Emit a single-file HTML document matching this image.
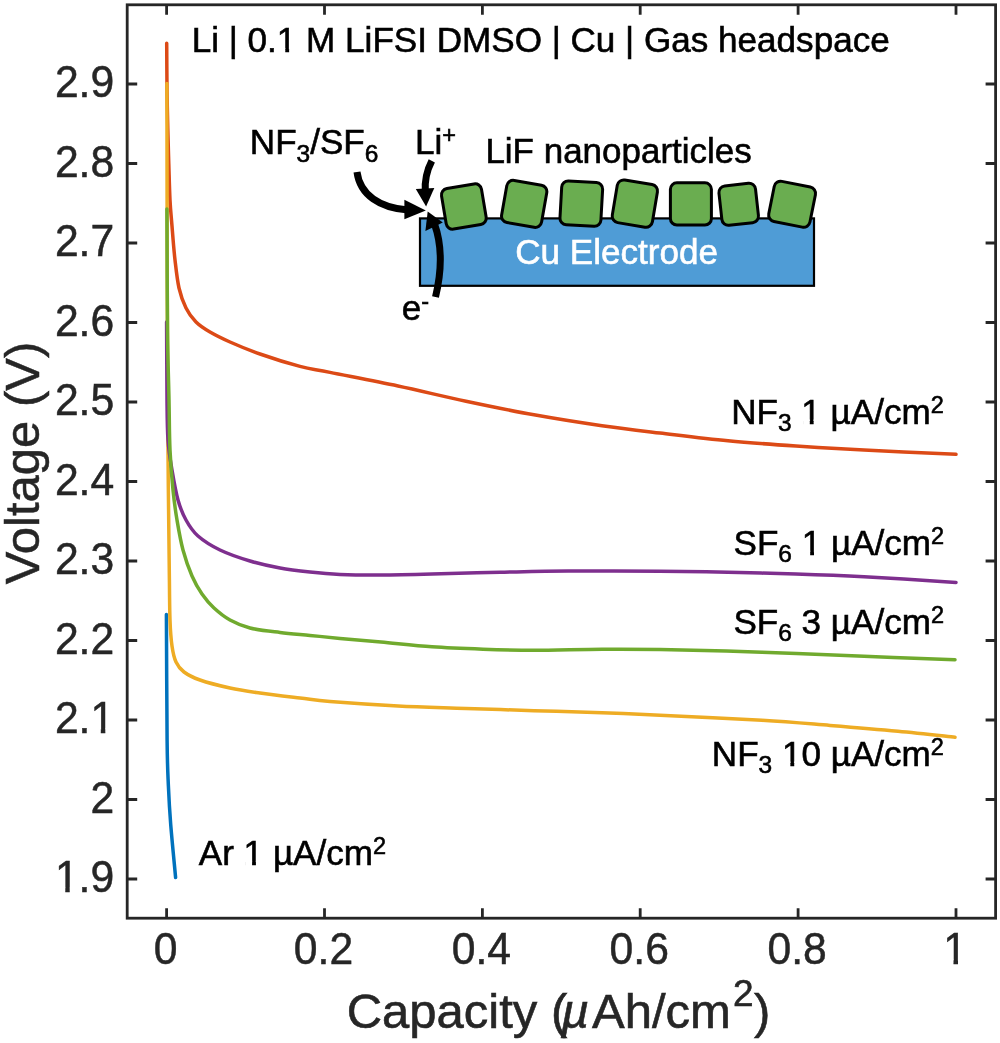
<!DOCTYPE html>
<html><head><meta charset="utf-8"><title>Voltage vs Capacity</title>
<style>html,body{margin:0;padding:0;background:#fff}svg{display:block}</style></head>
<body>
<svg width="1000" height="1043" viewBox="0 0 1000 1043" font-family="'Liberation Sans', sans-serif">
<defs><clipPath id="k1"><path clip-rule="evenodd" d="M0 0H1000V1043H0ZM945.3 959.4H953.5V965.5H945.3ZM958.0 959.4H966.2V965.5H958.0Z"/></clipPath><clipPath id="k2"><path clip-rule="evenodd" d="M0 0H1000V1043H0ZM57.0 887.6H65.3V893.7H57.0ZM69.7 887.6H77.9V893.7H69.7Z"/></clipPath><clipPath id="k3"><path clip-rule="evenodd" d="M0 0H1000V1043H0ZM92.6 728.6H100.8V734.7H92.6ZM105.3 728.6H113.5V734.7H105.3Z"/></clipPath><clipPath id="k4"><path clip-rule="evenodd" d="M0 0H1000V1043H0ZM278.6 47.9H285.3V53.3H278.6ZM289.1 47.9H295.8V53.3H289.1Z"/></clipPath><clipPath id="k5"><path clip-rule="evenodd" d="M0 0H1000V1043H0ZM803.1 419.6H809.8V425.0H803.1ZM813.6 419.6H820.3V425.0H813.6Z"/></clipPath><clipPath id="k6"><path clip-rule="evenodd" d="M0 0H1000V1043H0ZM803.5 550.6H810.2V556.0H803.5ZM814.0 550.6H820.7V556.0H814.0Z"/></clipPath><clipPath id="k7"><path clip-rule="evenodd" d="M0 0H1000V1043H0ZM783.7 761.6H790.4V767.0H783.7ZM794.2 761.6H800.9V767.0H794.2Z"/></clipPath><clipPath id="k8"><path clip-rule="evenodd" d="M0 0H1000V1043H0ZM245.4 861.1H252.1V866.5H245.4ZM255.9 861.1H262.6V866.5H255.9Z"/></clipPath></defs>
<rect width="1000" height="1043" fill="#fff"/>
<path d="M166.4 614.6C166.5 635.5 166.8 711.4 167.1 740.0C167.4 768.6 167.8 771.9 168.4 786.0C169.0 800.1 169.5 809.1 170.7 824.4C171.9 839.6 174.8 868.6 175.6 877.5" fill="none" stroke="#0072BD" stroke-width="3.5" stroke-linejoin="round" stroke-linecap="round"/>
<path d="M166.7 43.2C166.8 52.7 166.8 79.9 167.2 100.0C167.5 120.1 168.3 147.3 168.8 164.0C169.3 180.7 169.5 189.7 170.0 200.0C170.5 210.3 171.2 216.0 172.0 226.0C172.8 236.0 173.8 249.7 175.0 260.0C176.2 270.3 177.2 280.0 179.0 288.0C180.8 296.0 183.2 302.3 186.0 308.0C188.8 313.7 192.0 318.0 196.0 322.0C200.0 326.0 204.3 328.7 210.0 332.0C215.7 335.3 221.7 338.3 230.0 342.0C238.3 345.7 248.3 349.9 260.0 354.0C271.7 358.1 288.3 363.3 300.0 366.4C311.7 369.5 313.7 369.1 330.0 372.4C346.3 375.7 375.3 381.2 398.0 386.0C420.7 390.8 443.3 396.4 466.0 401.2C488.7 406.0 511.3 410.7 534.0 414.8C556.7 418.9 581.0 422.7 602.0 425.7C623.0 428.7 639.0 430.5 660.0 433.0C681.0 435.5 705.3 438.6 728.0 440.8C750.7 443.0 773.3 444.5 796.0 446.0C818.7 447.5 837.3 448.6 864.0 450.0C890.7 451.4 940.7 453.6 956.0 454.3" fill="none" stroke="#DC4A16" stroke-width="3.5" stroke-linejoin="round" stroke-linecap="round"/>
<path d="M166.9 83.5C167.0 119.6 167.1 238.9 167.3 300.0C167.5 361.1 167.7 403.3 168.0 450.0C168.3 496.7 169.1 551.7 169.4 580.0C169.7 608.3 169.6 609.0 170.0 620.0C170.4 631.0 171.0 639.0 172.0 646.0C173.0 653.0 174.0 657.7 176.0 662.0C178.0 666.3 180.0 669.0 184.0 672.0C188.0 675.0 192.3 677.3 200.0 680.0C207.7 682.7 220.0 685.8 230.0 688.0C240.0 690.2 248.3 691.3 260.0 693.0C271.7 694.7 288.3 696.6 300.0 698.0C311.7 699.4 313.7 700.3 330.0 701.6C346.3 702.9 375.3 704.9 398.0 706.0C420.7 707.1 443.3 707.6 466.0 708.4C488.7 709.2 511.3 710.0 534.0 710.7C556.7 711.4 581.0 712.0 602.0 712.8C623.0 713.5 633.3 714.0 660.0 715.2C686.7 716.5 733.7 718.6 762.0 720.3C790.3 722.0 807.3 723.6 830.0 725.4C852.7 727.2 877.2 729.2 898.0 731.2C918.8 733.2 945.5 736.2 955.0 737.2" fill="none" stroke="#EEAC24" stroke-width="3.5" stroke-linejoin="round" stroke-linecap="round"/>
<path d="M166.6 322.0C166.7 335.0 166.8 380.3 167.0 400.0C167.2 419.7 167.2 428.3 168.0 440.0C168.8 451.7 170.3 460.0 172.0 470.0C173.7 480.0 175.7 491.7 178.0 500.0C180.3 508.3 182.7 514.0 186.0 520.0C189.3 526.0 192.3 531.0 198.0 536.0C203.7 541.0 211.3 545.8 220.0 550.0C228.7 554.2 240.0 558.0 250.0 561.0C260.0 564.0 270.0 566.2 280.0 568.0C290.0 569.8 300.0 570.9 310.0 572.0C320.0 573.1 328.2 573.9 340.0 574.4C351.8 574.9 365.7 575.1 381.0 575.0C396.3 574.9 412.2 574.5 432.0 574.0C451.8 573.5 477.3 572.8 500.0 572.3C522.7 571.8 541.3 571.2 568.0 571.0C594.7 570.8 633.3 571.1 660.0 571.3C686.7 571.5 705.3 571.8 728.0 572.3C750.7 572.8 773.3 573.3 796.0 574.0C818.7 574.7 837.3 575.3 864.0 576.7C890.7 578.1 940.7 581.5 956.0 582.4" fill="none" stroke="#7E2F8E" stroke-width="3.5" stroke-linejoin="round" stroke-linecap="round"/>
<path d="M166.9 209.0C167.0 229.2 167.2 298.2 167.5 330.0C167.8 361.8 168.6 380.0 169.0 400.0C169.4 420.0 169.3 435.0 170.0 450.0C170.7 465.0 171.8 478.3 173.0 490.0C174.2 501.7 175.3 510.0 177.0 520.0C178.7 530.0 180.5 540.7 183.0 550.0C185.5 559.3 188.8 568.7 192.0 576.0C195.2 583.3 198.3 588.7 202.0 594.0C205.7 599.3 209.3 603.7 214.0 608.0C218.7 612.3 224.0 616.7 230.0 620.0C236.0 623.3 241.7 625.9 250.0 628.0C258.3 630.1 270.0 631.2 280.0 632.4C290.0 633.6 300.0 634.4 310.0 635.4C320.0 636.4 328.2 637.3 340.0 638.4C351.8 639.5 365.7 640.6 381.0 642.0C396.3 643.4 415.0 645.6 432.0 646.8C449.0 648.0 466.0 648.6 483.0 649.2C500.0 649.8 514.2 650.2 534.0 650.2C553.8 650.2 581.0 649.3 602.0 649.2C623.0 649.1 633.3 649.0 660.0 649.5C686.7 650.0 728.0 651.1 762.0 652.2C796.0 653.3 831.8 655.0 864.0 656.3C896.2 657.5 939.8 659.1 955.0 659.7" fill="none" stroke="#70AA2E" stroke-width="3.5" stroke-linejoin="round" stroke-linecap="round"/>
<rect x="127.2" y="4.8" width="868.4" height="913.4" fill="none" stroke="#262626" stroke-width="2.8"/>
<path d="M166.6 918.2v-10.0M166.6 4.8v10.0M324.5 918.2v-10.0M324.5 4.8v10.0M482.4 918.2v-10.0M482.4 4.8v10.0M640.2 918.2v-10.0M640.2 4.8v10.0M798.1 918.2v-10.0M798.1 4.8v10.0M956.0 918.2v-10.0M956.0 4.8v10.0M127.2 879.0h10.0M995.6 879.0h-10.0M127.2 799.5h10.0M995.6 799.5h-10.0M127.2 720.0h10.0M995.6 720.0h-10.0M127.2 640.5h10.0M995.6 640.5h-10.0M127.2 561.0h10.0M995.6 561.0h-10.0M127.2 481.5h10.0M995.6 481.5h-10.0M127.2 402.0h10.0M995.6 402.0h-10.0M127.2 322.5h10.0M995.6 322.5h-10.0M127.2 243.0h10.0M995.6 243.0h-10.0M127.2 163.5h10.0M995.6 163.5h-10.0M127.2 84.0h10.0M995.6 84.0h-10.0" stroke="#262626" stroke-width="2.8" fill="none"/>
<g font-size="44" fill="#262626" stroke="#262626" stroke-width=".5" text-anchor="middle">
<text transform="translate(165.6 964) scale(.97 1)">0</text>
<text transform="translate(323.5 964) scale(.97 1)">0.2</text>
<text transform="translate(481.4 964) scale(.97 1)">0.4</text>
<text transform="translate(639.2 964) scale(.97 1)">0.6</text>
<text transform="translate(797.1 964) scale(.97 1)">0.8</text>
<g clip-path="url(#k1)"><text transform="translate(955.0 964) scale(.97 1)">1</text></g>
</g>
<g font-size="44" fill="#262626" stroke="#262626" stroke-width=".5" text-anchor="end">
<g clip-path="url(#k2)"><text transform="translate(114.2 892.2) scale(.97 1)">1.9</text></g>
<text transform="translate(114.2 812.7) scale(.97 1)">2</text>
<g clip-path="url(#k3)"><text transform="translate(114.2 733.2) scale(.97 1)">2.1</text></g>
<text transform="translate(114.2 653.7) scale(.97 1)">2.2</text>
<text transform="translate(114.2 574.2) scale(.97 1)">2.3</text>
<text transform="translate(114.2 494.7) scale(.97 1)">2.4</text>
<text transform="translate(114.2 415.2) scale(.97 1)">2.5</text>
<text transform="translate(114.2 335.7) scale(.97 1)">2.6</text>
<text transform="translate(114.2 256.2) scale(.97 1)">2.7</text>
<text transform="translate(114.2 176.7) scale(.97 1)">2.8</text>
<text transform="translate(114.2 97.2) scale(.97 1)">2.9</text>
</g>
<text transform="translate(346.70 1028.4) scale(1.0000 1)" font-size="49" fill="#262626" stroke="#262626" stroke-width="0.6">Capacity (</text>
<text transform="translate(561.00 1028.4) scale(1.0000 1)" font-size="49" fill="#262626" stroke="#262626" stroke-width="0.6" font-style="italic">µ</text>
<text transform="translate(592.00 1028.4) scale(1.0000 1)" font-size="49" fill="#262626" stroke="#262626" stroke-width="0.6">Ah/cm</text>
<text transform="translate(733.00 1005.6) scale(1.0000 1)" font-size="37" fill="#262626" stroke="#262626" stroke-width="0.6">2</text>
<text transform="translate(754.00 1028.4) scale(1.0000 1)" font-size="49" fill="#262626" stroke="#262626" stroke-width="0.6">)</text>
<text transform="translate(39.1 463) rotate(-90)" font-size="49" fill="#262626" stroke="#262626" stroke-width=".5" text-anchor="middle">Voltage (V)</text>
<g clip-path="url(#k4)"><text transform="translate(191.70 51.8) scale(1.0000 1)" font-size="35.1" fill="#000" stroke="#000" stroke-width="0.6">Li | 0.1 M LiFSI DMSO | Cu | Gas headspace</text></g>
<g clip-path="url(#k5)"><text transform="translate(731.20 423.5) scale(1.0000 1)" font-size="35.1" fill="#000" stroke="#000" stroke-width="0.6">NF<tspan font-size="24.5" dy="7.5">3</tspan><tspan dy="-7.5"> 1 µA/cm</tspan><tspan font-size="23.5" dy="-11">2</tspan></text></g>
<g clip-path="url(#k6)"><text transform="translate(733.50 554.5) scale(1.0000 1)" font-size="35.1" fill="#000" stroke="#000" stroke-width="0.6">SF<tspan font-size="24.5" dy="7.5">6</tspan><tspan dy="-7.5"> 1 µA/cm</tspan><tspan font-size="23.5" dy="-11">2</tspan></text></g>
<text transform="translate(733.40 633.5) scale(1.0000 1)" font-size="35.1" fill="#000" stroke="#000" stroke-width="0.6">SF<tspan font-size="24.5" dy="7.5">6</tspan><tspan dy="-7.5"> 3 µA/cm</tspan><tspan font-size="23.5" dy="-11">2</tspan></text>
<g clip-path="url(#k7)"><text transform="translate(711.80 765.5) scale(1.0000 1)" font-size="35.1" fill="#000" stroke="#000" stroke-width="0.6">NF<tspan font-size="24.5" dy="7.5">3</tspan><tspan dy="-7.5"> 10 µA/cm</tspan><tspan font-size="23.5" dy="-11">2</tspan></text></g>
<g clip-path="url(#k8)"><text transform="translate(198.80 865.0) scale(1.0000 1)" font-size="35.1" fill="#000" stroke="#000" stroke-width="0.6">Ar 1 µA/cm<tspan font-size="23.5" dy="-11">2</tspan></text></g>
<text transform="translate(249.80 154.2) scale(1.0000 1)" font-size="35.1" fill="#000" stroke="#000" stroke-width="0.6">NF<tspan font-size="24.5" dy="7.5">3</tspan><tspan dy="-7.5">/SF</tspan><tspan font-size="24.5" dy="7.5">6</tspan></text>
<text transform="translate(415.00 154.4) scale(1.0000 1)" font-size="35.1" fill="#000" stroke="#000" stroke-width="0.6">Li<tspan font-size="23.5" dy="-11">+</tspan></text>
<text transform="translate(401.80 319.5) scale(1.0000 1)" font-size="35.1" fill="#000" stroke="#000" stroke-width="0.6">e<tspan font-size="23.5" dy="-11">-</tspan></text>
<text transform="translate(485.40 163.4) scale(0.9970 1)" font-size="35.1" fill="#000" stroke="#000" stroke-width="0.6">LiF nanoparticles</text>
<rect x="420" y="218.4" width="394" height="67.4" fill="#4F9CD6" stroke="#000" stroke-width="2.2"/>
<text transform="translate(515.20 264.4) scale(1.0000 1)" font-size="35.1" fill="#fff" stroke="#fff" stroke-width="0.6">Cu Electrode</text>
<rect x="443.6" y="185.9" width="40.5" height="41.2" rx="6.5" fill="#6AAD50" stroke="#000" stroke-width="3" transform="rotate(-9.5 463.9 206.5)"/>
<rect x="503.9" y="182.5" width="40.6" height="42.7" rx="6.5" fill="#6AAD50" stroke="#000" stroke-width="3" transform="rotate(10.0 524.2 203.8)"/>
<rect x="560.8" y="181.7" width="41.0" height="43.8" rx="6.5" fill="#6AAD50" stroke="#000" stroke-width="3" transform="rotate(3.2 581.3 203.6)"/>
<rect x="614.5" y="182.0" width="40.7" height="43.2" rx="6.5" fill="#6AAD50" stroke="#000" stroke-width="3" transform="rotate(9.5 634.9 203.6)"/>
<rect x="670.4" y="182.8" width="41.0" height="42.2" rx="6.5" fill="#6AAD50" stroke="#000" stroke-width="3" transform="rotate(0.0 690.9 203.9)"/>
<rect x="720.3" y="184.5" width="36.8" height="39.6" rx="6.5" fill="#6AAD50" stroke="#000" stroke-width="3" transform="rotate(-6.3 738.7 204.3)"/>
<rect x="771.1" y="183.8" width="42.0" height="40.9" rx="6.5" fill="#6AAD50" stroke="#000" stroke-width="3" transform="rotate(11.3 792.1 204.2)"/>
<g fill="none" stroke="#000" stroke-width="7">
<path d="M357 172C360 195 380 208 408 210"/>
<path d="M431.8 160.8C426.5 171 424.6 182 425.3 192"/>
<path d="M435.5 297C442 270 442 245 434.5 224"/>
</g>
<path d="M404.4 199.7L425.8 210.6L404.4 219.3Z" fill="#000"/>
<path d="M415.8 189.1L434.3 187.9L426.1 206.5Z" fill="#000"/>
<path d="M425.4 231L427.7 211.4L442.8 222.4Z" fill="#000"/>
</svg>
</body></html>
